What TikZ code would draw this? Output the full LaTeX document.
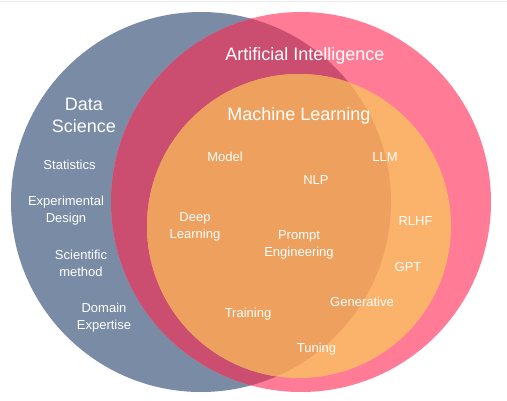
\documentclass[tikz,border=0pt]{standalone}
\usepackage{fontspec}
\setmainfont{Liberation Sans}
\definecolor{dsblue}{HTML}{798BA5}
\definecolor{aipink}{HTML}{FF7B96}
\definecolor{overlapred}{HTML}{CB4E70}
\definecolor{mllight}{HTML}{FBB26B}
\definecolor{mldark}{HTML}{EEA05E}
\begin{document}
\begin{tikzpicture}[x=1pt,y=-1pt,
  big/.style={text=white,font=\fontsize{18}{22}\selectfont,align=center,inner sep=0pt,anchor=base},
  small/.style={text=white,font=\fontsize{13}{16.5}\selectfont,align=center,inner sep=0pt,anchor=base}]
\useasboundingbox (0,0) rectangle (507,400);
\draw[black!8, line width=1pt] (0,1) -- (507,1);
\fill[dsblue] (201,202) circle[radius=190pt];
\fill[aipink] (301,202) circle[radius=190pt];
\begin{scope}
\clip (201,202) circle[radius=190pt];
\fill[overlapred] (301,202) circle[radius=190pt];
\end{scope}
\fill[mllight] (299,226) circle[radius=152pt];
\begin{scope}
\clip (201,202) circle[radius=190pt];
\fill[mldark] (299,226) circle[radius=152pt];
\end{scope}
\node[big] (ai) at (305,60) {Artificial Intelligence};
\node[big] (ml) at (299,120) {Machine Learning};
\node[big] (ds) at (84,132) {Data\\Science};
\node[small] (stat) at (69.5,169) {Statistics};
\node[small] (exp) at (66,222) {Experimental\\Design};
\node[small] (sci) at (81,276) {Scientific\\method};
\node[small] (dom) at (104,329) {Domain\\Expertise};
\node[small] (model) at (225,161) {Model};
\node[small] (llm) at (385,161) {LLM};
\node[small] (nlp) at (316,184) {NLP};
\node[small] (deep) at (195,238) {Deep\\Learning};
\node[small] (prompt) at (299,256) {Prompt\\Engineering};
\node[small] (rlhf) at (415.5,225) {RLHF};
\node[small] (gpt) at (408,271) {GPT};
\node[small] (gen) at (362,306) {Generative};
\node[small] (train) at (248,317) {Training};
\node[small] (tune) at (316.5,352) {Tuning};
\end{tikzpicture}
\end{document}
